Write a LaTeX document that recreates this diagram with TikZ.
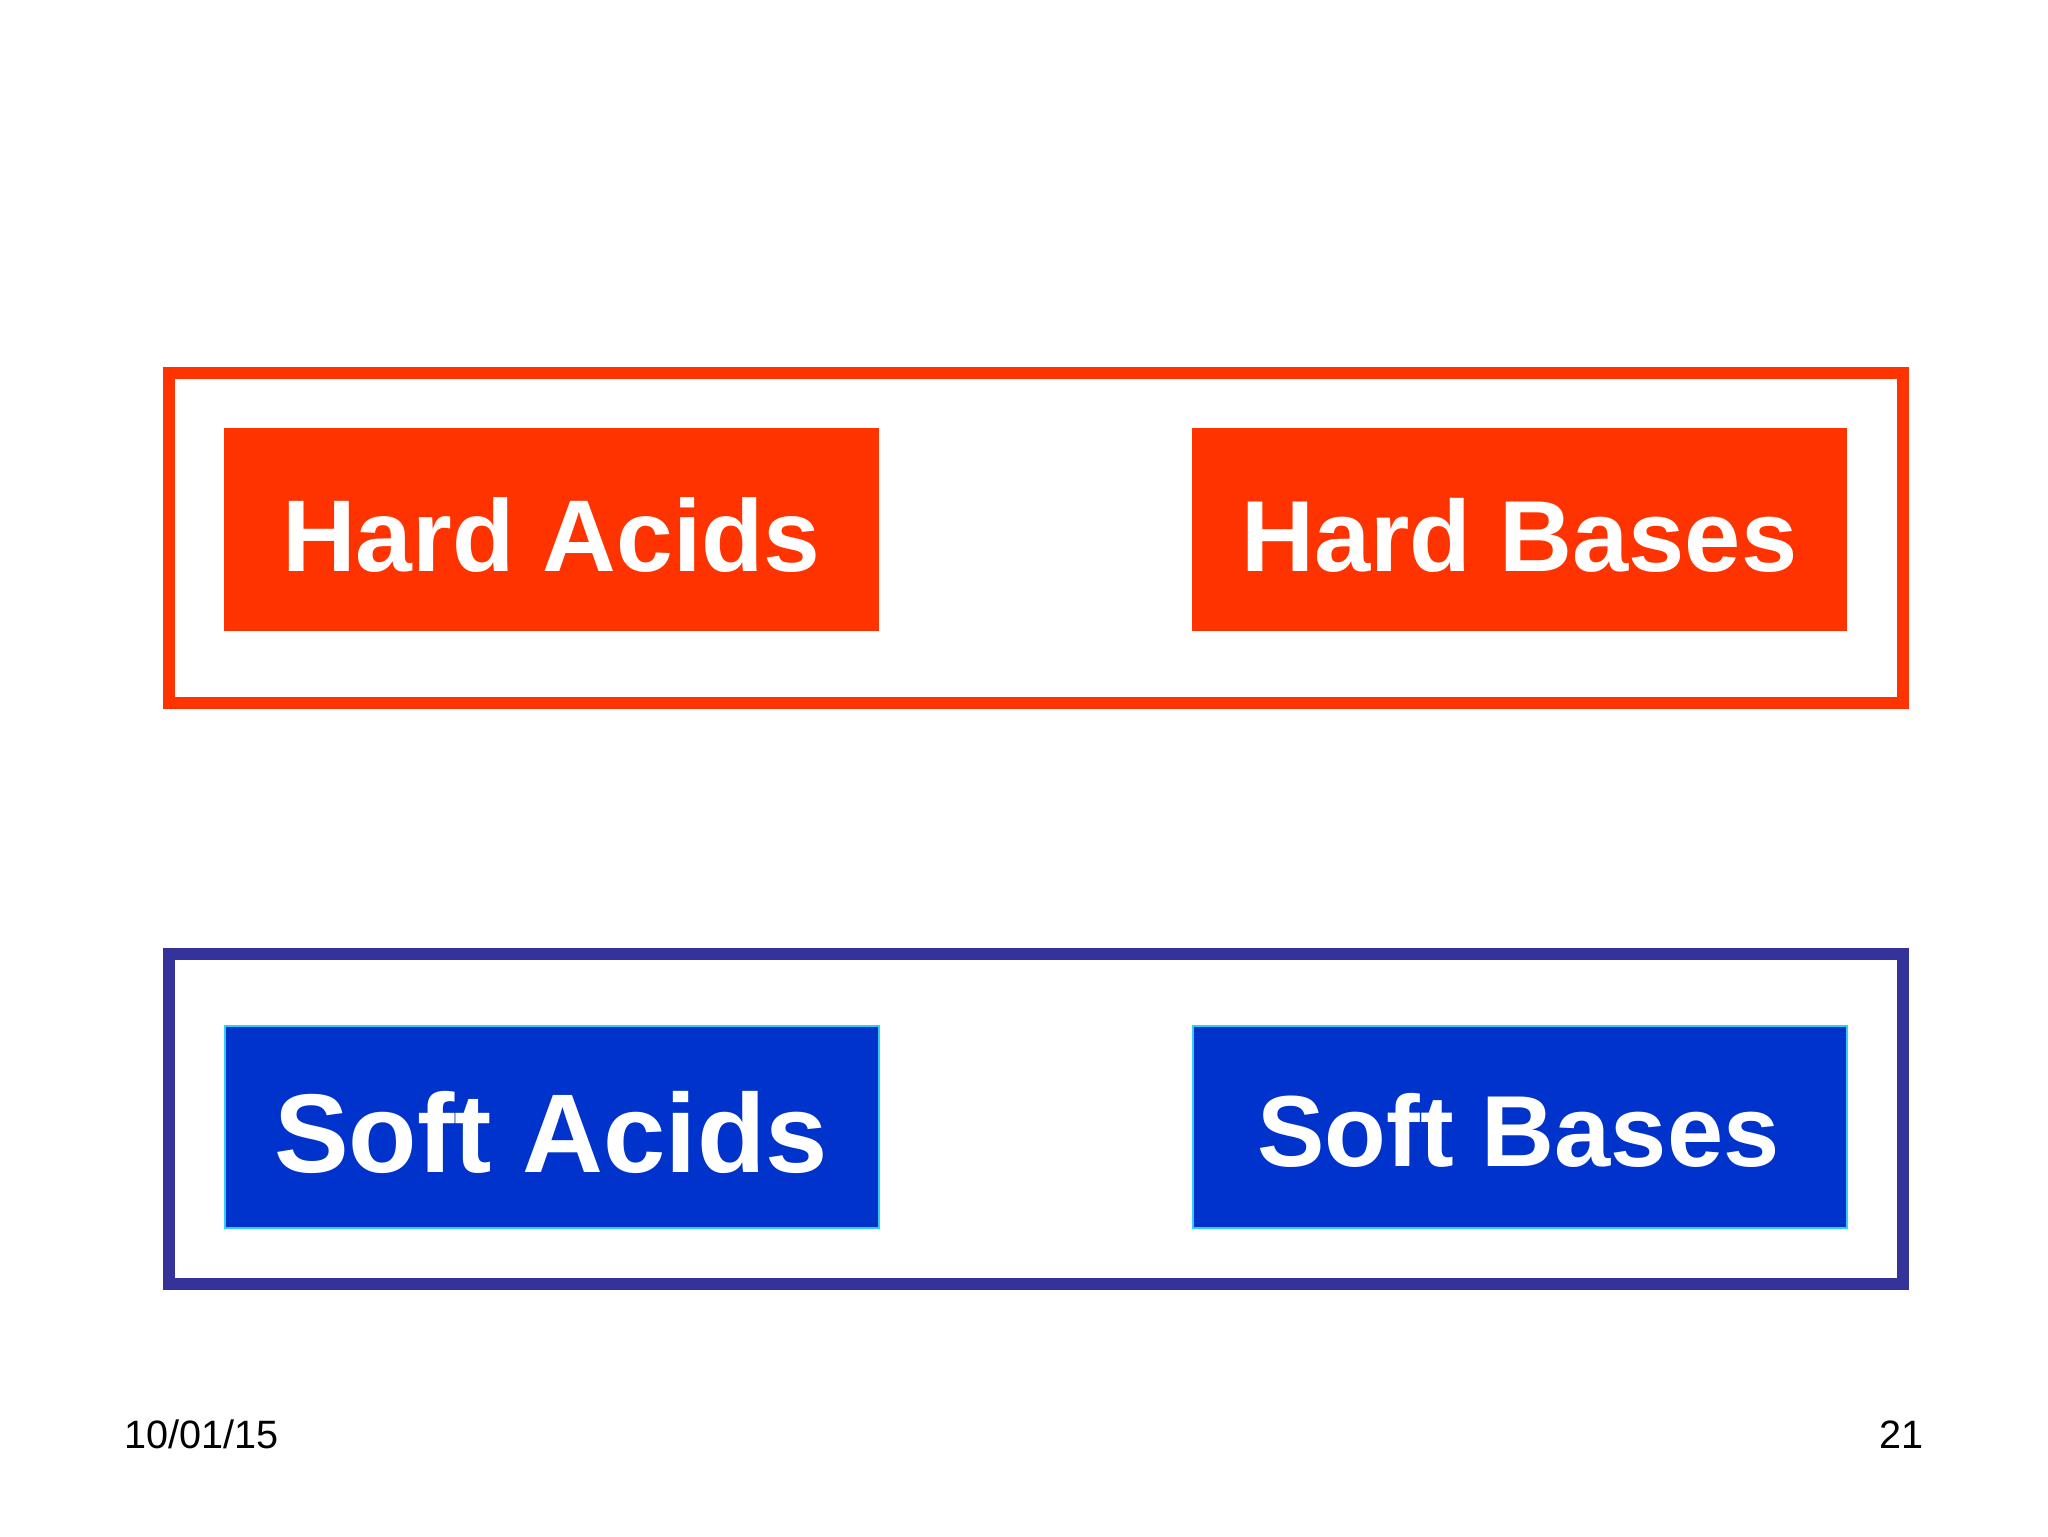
\documentclass[tikz,border=0pt]{standalone}
\usepackage{fontspec}
\setmainfont{Liberation Sans}
\definecolor{hardred}{HTML}{FF3300}
\definecolor{softblue}{HTML}{0033CC}
\definecolor{frameblue}{HTML}{333399}
\definecolor{edgecyan}{HTML}{33CCFF}
\tikzset{
  frame/.style={line width=6pt},
  hardbox/.style={fill=hardred, draw=none},
  softbox/.style={fill=softblue, draw=edgecyan, line width=0.6pt},
  boxtext/.style={text=white, font=\bfseries, inner sep=0pt, anchor=base},
  foot/.style={text=black, inner sep=0pt, anchor=base, font=\fontsize{19.8}{23}\selectfont}
}
\begin{document}
\begin{tikzpicture}[x=0.5pt,y=-0.5pt]
\useasboundingbox (0,0) rectangle (2048,1536);
\fill[white] (0,0) rectangle (2048,1536);
% frames
\draw[frame, draw=hardred] (169,372.5) rectangle (1903,703);
\draw[frame, draw=frameblue] (169,953.5) rectangle (1903,1284);
% boxes
\path[hardbox] (224,428) rectangle (879,631) coordinate (ha);
\path[hardbox] (1192,428) rectangle (1847,631) coordinate (hb);
\path[softbox] (225,1026) rectangle (879,1228) coordinate (sa);
\path[softbox] (1193,1026) rectangle (1847,1228) coordinate (sb);
% texts
\node[boxtext, font=\bfseries\fontsize{51}{60}\selectfont] (hat) at (551.5,571) {Hard Acids};
\node[boxtext, font=\bfseries\fontsize{50.5}{60}\selectfont] (hbt) at (1519.5,571) {Hard Bases};
\node[boxtext, font=\bfseries\fontsize{56}{66}\selectfont] (sat) at (551,1172) {Soft Acids};
\node[boxtext, font=\bfseries\fontsize{50.5}{60}\selectfont] (sbt) at (1518.5,1166) {Soft Bases};
% footer
\node[foot, anchor=base west] (date) at (124,1448) {10/01/15};
\node[foot, anchor=base east] (page) at (1924,1448) {21};
\end{tikzpicture}
\end{document}
